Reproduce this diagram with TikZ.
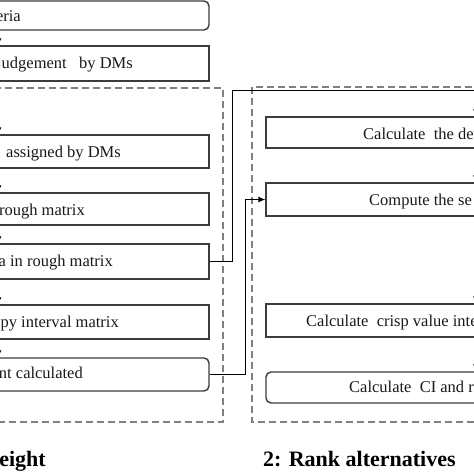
\documentclass[tikz,border=0pt]{standalone}
\usepackage{fontspec}
\setmainfont{Liberation Serif}
\usepackage{xcolor}
\usepackage{tikz}
\usetikzlibrary{arrows.meta}
\usetikzlibrary{positioning}
\definecolor{boxgray}{HTML}{3C3C3C}
\definecolor{dashgray}{HTML}{808080}
\tikzset{
  MyBox/.style={
    rectangle, line width=1.4pt, draw=boxgray, fill=white,
  },
  MyRound/.style={
    MyBox, rounded corners=5pt,
  },
  MyDash/.style={
    line width=1.1pt, draw=dashgray, dash pattern=on 7pt off 4pt,
  },
  MyText/.style={
    inner sep=0pt, text=black!90, font=\fontsize{16.5}{19}\selectfont,
  },
  MyTitle/.style={
    inner sep=0pt, font=\fontsize{22}{26}\selectfont\bfseries,
  },
  MyArrow/.style={
    -{Latex[length=7pt,width=6pt]}, line width=0.9pt, draw=black,
  },
}

\begin{document}
\begin{tikzpicture}[x=1pt,y=-1pt]
\useasboundingbox (0,0) rectangle (474,474);
\clip (0,0) rectangle (474,474);
\draw[MyDash] (-20,88) rectangle (223,422);
\draw[MyDash] (252,87) rectangle (500,422);
\node[MyRound, minimum width=421pt, minimum height=29pt] (CRIT) at (-1.5,15.5) {};
\node[MyBox, minimum width=421pt, minimum height=35pt] (JUDG) at (-1.5,63.5) {};
\node[MyBox, minimum width=421pt, minimum height=33pt] (ASSIGN) at (-1.5,151.5) {};
\node[MyBox, minimum width=421pt, minimum height=32pt] (ROUGH) at (-1.5,209) {};
\node[MyBox, minimum width=421pt, minimum height=35pt] (DATA) at (-1.5,261.5) {};
\node[MyBox, minimum width=421pt, minimum height=34pt] (FUZZY) at (-1.5,322) {};
\node[MyRound, minimum width=421pt, minimum height=33pt] (WEIGHT) at (-1.5,374.5) {};
\node[MyBox, minimum width=420pt, minimum height=31pt] (DEV) at (476,132.5) {};
\node[MyBox, minimum width=420pt, minimum height=33pt] (SEQ) at (476,199.5) {};
\node[MyBox, minimum width=420pt, minimum height=33pt] (CRISP) at (476,320.5) {};
\node[MyRound, minimum width=420pt, minimum height=31pt] (RANK) at (476,387.5) {};
\node[MyText, anchor=base east] (CRITtxt) at (21,21) {eria};
\node[MyText, anchor=base east] (JUDGtxt) at (133,68) {judgement\ \ \ by DMs};
\node[MyText, anchor=base east] (ASSIGNtxt) at (121,157) {assigned\ by DMs};
\node[MyText, anchor=base east] (ROUGHtxt) at (85,215) {rough\ matrix};
\node[MyText, anchor=base east] (DATAtxt) at (113,266) {ta in rough\ matrix};
\node[MyText, anchor=base east] (FUZZYtxt) at (119,327) {py\ interval\ matrix};
\node[MyText, anchor=base east] (WEIGHTtxt) at (83,378) {nt\ calculated};
\node[MyText, anchor=base west] (DEVtxt) at (363,139) {Calculate\ \ the dev};
\node[MyText, anchor=base west] (SEQtxt) at (369,205) {Compute the se};
\node[MyText, anchor=base west] (CRISPtxt) at (306,326) {Calculate\ \ crisp value\ inte};
\node[MyText, anchor=base west] (RANKtxt) at (349,392) {Calculate\ \ CI and ra};
\node[MyTitle, anchor=base east] (STEPone) at (46,466) {eight};
\node[MyTitle, anchor=base west] (STEPtwo) at (263,466) {2: Rank alternatives};
\draw[MyArrow] (CRIT.south) to (JUDG.north);
\draw[MyArrow] (JUDG.south) to (ASSIGN.north);
\draw[MyArrow] (ASSIGN.south) to (ROUGH.north);
\draw[MyArrow] (ROUGH.south) to (DATA.north);
\draw[MyArrow] (DATA.south) to (FUZZY.north);
\draw[MyArrow] (FUZZY.south) to (WEIGHT.north);
\draw[MyArrow] (DEV.south) to (SEQ.north);
\draw[MyArrow] (SEQ.south) to (CRISP.north);
\draw[MyArrow] (CRISP.south) to (RANK.north);
\draw[MyArrow] (DATA.east) -- ++(23,0) |- ([yshift=26pt]DEV.north) -- (DEV.north);
\draw[MyArrow] (WEIGHT.east) -- ++(36,0) |- (SEQ.west);
\end{tikzpicture}
\end{document}
